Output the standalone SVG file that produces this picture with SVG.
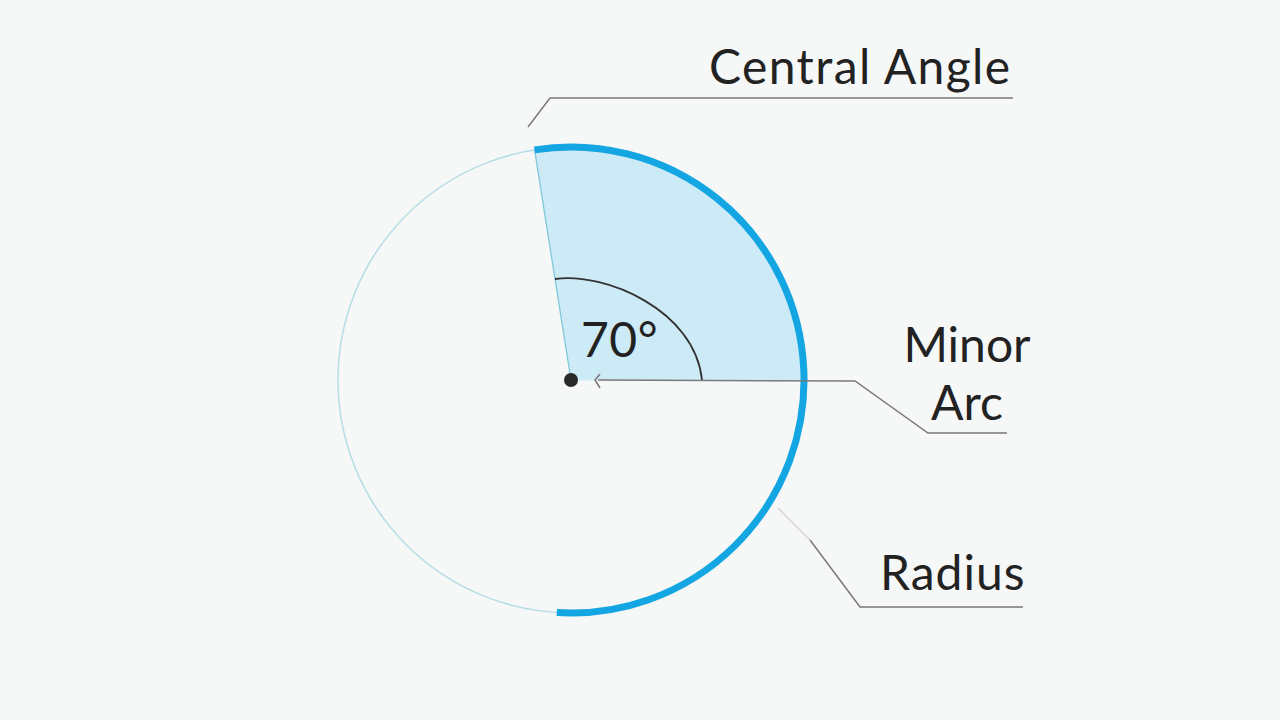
<svg xmlns="http://www.w3.org/2000/svg" width="1280" height="720" viewBox="0 0 1280 720">
  <style>
    .label { font-family: Lato, "Noto Sans", "Liberation Sans", sans-serif; font-size: 48px; fill: #222; }
    .leader { fill: none; stroke: #7a7a7a; stroke-width: 1.5; }
  </style>
  <rect width="1280" height="720" fill="#f6f7f7"/>
  <g id="circle">
    <path d="M571,380 L804,380 A233,233 0 0 0 534.6,149.9 Z" fill="#cdeaf7" stroke="none"/>
    <circle cx="571" cy="380" r="233" fill="none" stroke="#b4dde6" stroke-width="1.5"/>
    <line x1="571" y1="380" x2="534.6" y2="149.9" stroke="#7fc8da" stroke-width="1.3"/>
    <path d="M534.6,149.9 A233,233 0 1 1 556.8,612.6" fill="none" stroke="#14a6e2" stroke-width="7"/>
  </g>
  <g id="angle">
    <path d="M555,279 C605,272 695,310 702,380" fill="none" stroke="#333" stroke-width="1.8"/>
    <text class="label" x="581" y="357" font-size="50" letter-spacing="0.5">70°</text>
    <line x1="571" y1="380" x2="596" y2="380" stroke="#d6eef8" stroke-width="1.5"/>
    <path d="M600,374 L595,380 L600,388" fill="none" stroke="#777" stroke-width="1.5"/>
    <circle cx="571" cy="380" r="7" fill="#2a2a2a"/>
  </g>
  <g id="connectors">
    <path class="leader" d="M528,127 L550,98 L1013,98"/>
    <path class="leader" d="M598,380 L855,381 L928,433 L1007,433"/>
    <path class="leader" d="M810,540 L860,607 L1023,607"/>
    <path d="M778,508 L810,540" fill="none" stroke="#cfcfcf" stroke-width="1.2"/>
  </g>
  <g id="central-angle-label">
    <text class="label" x="709" y="84" font-size="49" letter-spacing="1.4">Central Angle</text>
  </g>
  <g id="minor-arc-label">
    <text class="label" x="967" y="362" text-anchor="middle">Minor</text>
    <text class="label" x="967" y="420" text-anchor="middle">Arc</text>
  </g>
  <g id="radius-label">
    <text class="label" x="880" y="590" letter-spacing="1">Radius</text>
  </g>
</svg>
